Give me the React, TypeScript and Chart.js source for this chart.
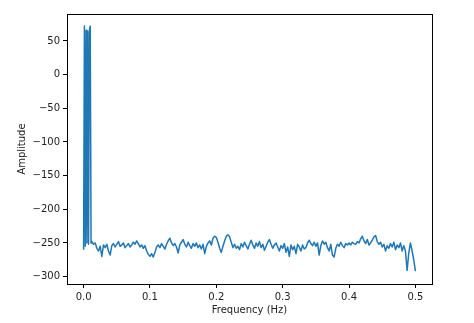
import React, { useEffect, useRef } from "react";
import { Chart, registerables } from "chart.js";

Chart.register(...registerables);

// Low-frequency spike region (finer resolution)
const SPIKE_FREQ: number[] = [
  0, 0.00125, 0.0025, 0.00375, 0.005, 0.00625, 0.0075, 0.00875, 0.01, 0.01125,
];
const SPIKE_AMP: number[] = [
  -260, 72, -255, 66, -250, 64, -252, 66, 72, -250,
];

// Remaining spectrum, sampled every FREQ_STEP starting at FREQ_START
const FREQ_START = 0.0125;
const FREQ_STEP = 0.0025;
const AMPLITUDE: number[] = [
  -248, -252, -250, -258, -262,
  -255, -270, -253, -257, -252, -262, -268, -254, -251, -256,
  -252, -248, -255, -253, -250, -257, -254, -251, -256, -253,
  -249, -252, -247, -251, -256, -253, -258, -254, -262, -267,
  -270, -266, -271, -264, -256, -253, -257, -251, -255, -259,
  -252, -247, -243, -250, -254, -251, -256, -265, -253, -249,
  -245, -252, -256, -249, -254, -258, -251, -255, -250, -257,
  -253, -259, -252, -266, -255, -250, -247, -253, -243, -240,
  -242, -249, -258, -264, -255, -247, -240, -238, -241, -249,
  -257, -252, -258, -255, -260, -251, -256, -249, -254, -259,
  -252, -246, -253, -258, -250, -255, -248, -257, -252, -261,
  -255, -249, -245, -252, -258, -253, -250, -256, -262, -254,
  -258, -251, -264, -256, -270, -253, -260, -255, -266, -252,
  -256, -262, -253, -259, -257, -250, -246, -251, -254, -249,
  -255, -250, -268, -254, -247, -252, -249, -257, -262, -252,
  -268, -271, -258, -252, -255, -249, -254, -257, -251, -253,
  -250, -253, -249, -251, -252, -248, -250, -244, -240, -247,
  -251, -245, -253, -250, -246, -241, -239, -248, -252, -249,
  -256, -252, -262, -254, -258, -251, -256, -249, -260, -253,
  -257, -250, -262, -254, -262, -291, -265, -250, -262, -275, -292,
];

const X_TICKS = [0, 0.1, 0.2, 0.3, 0.4, 0.5];
const Y_TICKS = [-300, -250, -200, -150, -100, -50, 0, 50];

const X_LABEL = "Frequency (Hz)";
const Y_LABEL = "Amplitude";

const FONT = { family: "'DejaVu Sans', sans-serif", size: 10 };
const TEXT = "#222";

const framePlugin = {
  id: "frame",
  afterDraw(chart: any) {
    const { ctx, chartArea: a } = chart;
    ctx.save();
    ctx.strokeStyle = "#000";
    ctx.lineWidth = 1;
    const l = Math.round(a.left) + 0.5;
    const t = Math.round(a.top) + 0.5;
    const r = Math.round(a.right) + 0.5;
    const b = Math.round(a.bottom) + 0.5;
    ctx.strokeRect(l, t, r - l, b - t);
    ctx.restore();
  },
};

export default function App() {
  const ref = useRef<HTMLCanvasElement>(null);

  useEffect(() => {
    if (!ref.current) return;
    const points = [
      ...SPIKE_AMP.map((v, i) => ({ x: SPIKE_FREQ[i], y: v })),
      ...AMPLITUDE.map((v, i) => ({ x: FREQ_START + i * FREQ_STEP, y: v })),
    ];
    const chart = new Chart(ref.current, {
      type: "line",
      data: {
        datasets: [
          {
            data: points,
            borderColor: "#1f77b4",
            borderWidth: 1.5,
            borderJoinStyle: "round",
            borderCapStyle: "butt",
            pointRadius: 0,
            tension: 0,
            fill: false,
          },
        ],
      },
      options: {
        responsive: false,
        animation: false,
        layout: { padding: { left: 0, right: 42, top: 14, bottom: 4 } },
        plugins: { legend: { display: false }, tooltip: { enabled: false } },
        scales: {
          x: {
            type: "linear",
            min: -0.025,
            max: 0.525,
            afterBuildTicks: (s: any) => {
              s.ticks = X_TICKS.map((v) => ({ value: v }));
            },
            afterFit: (s: any) => {
              s.height = 35;
            },
            grid: {
              drawOnChartArea: false,
              drawTicks: true,
              tickLength: 4,
              tickColor: "#000",
              tickWidth: 1,
            },
            border: { display: false },
            ticks: {
              font: FONT,
              color: TEXT,
              padding: 3,
              maxRotation: 0,
              autoSkip: false,
              callback: (v: any) => Number(v).toFixed(1),
            },
            title: {
              display: true,
              text: X_LABEL,
              font: FONT,
              color: TEXT,
              padding: { top: 0, bottom: 3 },
            },
          },
          y: {
            type: "linear",
            min: -311,
            max: 90,
            afterBuildTicks: (s: any) => {
              s.ticks = Y_TICKS.map((v) => ({ value: v }));
            },
            afterFit: (s: any) => {
              s.width = 67;
            },
            grid: {
              drawOnChartArea: false,
              drawTicks: true,
              tickLength: 4,
              tickColor: "#000",
              tickWidth: 1,
            },
            border: { display: false },
            ticks: {
              font: FONT,
              color: TEXT,
              padding: 3,
              autoSkip: false,
              callback: (v: any) => String(v).replace("-", "\u2212"),
            },
            title: {
              display: true,
              text: Y_LABEL,
              font: FONT,
              color: TEXT,
              padding: { top: 16, bottom: 0 },
            },
          },
        },
      },
      plugins: [framePlugin],
    });
    return () => chart.destroy();
  }, []);

  return (
    <div style={{ position: "absolute", left: 0, top: 0, width: 474, height: 323, background: "#fff" }}>
      <canvas ref={ref} width={474} height={323} />
    </div>
  );
}
